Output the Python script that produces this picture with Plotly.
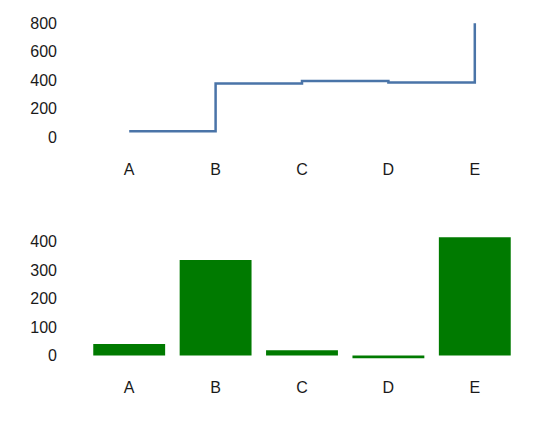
import plotly.graph_objects as go
from plotly.subplots import make_subplots

categories = ["A", "B", "C", "D", "E"]
running_total = [40, 375, 393, 383, 798]
changes = [40, 335, 18, -10, 415]

top_ticks = [0, 200, 400, 600, 800]
bottom_ticks = [0, 100, 200, 300, 400]

W, H = 547, 436
font = dict(family="Liberation Sans, Arial, sans-serif", size=16, color="#1a1a1a")

fig = make_subplots(rows=2, cols=1, vertical_spacing=0.1)

fig.add_trace(
    go.Scatter(
        x=categories, y=running_total, mode="lines", line_shape="hv",
        line=dict(color="#4a74a8", width=2.5), showlegend=False,
    ),
    row=1, col=1,
)
fig.add_trace(
    go.Bar(x=categories, y=changes, marker=dict(color="#007a00", line_width=0),
           showlegend=False),
    row=2, col=1,
)

def frac(px):
    return 1 - px / H

axis_common = dict(showgrid=False, zeroline=False, showline=False, ticks="",
                   tickfont=font)

fig.update_xaxes(**axis_common, range=[-0.5, 4.5], ticklabelstandoff=3)
fig.update_yaxes(**axis_common, ticklabelstandoff=28)

fig.update_layout(
    width=W, height=H,
    margin=dict(l=86, r=29, t=0, b=0),
    paper_bgcolor="white", plot_bgcolor="white",
    bargap=0.168,
    font=font,
    xaxis=dict(domain=[0, 1]),
    xaxis2=dict(domain=[0, 1]),
    yaxis=dict(domain=[frac(155), frac(15)], range=[-126.3, 856.1],
               tickvals=top_ticks),
    yaxis2=dict(domain=[frac(373), frac(233)], range=[-61.4, 429.8],
                tickvals=bottom_ticks),
)

fig.write_html("out.html")
